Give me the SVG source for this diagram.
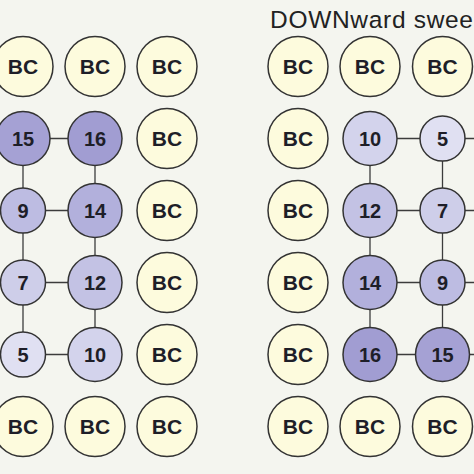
<svg xmlns="http://www.w3.org/2000/svg" width="474" height="474" viewBox="0 0 474 474">
<style>
.bc{fill:#fdfbdd;stroke:#333;stroke-width:1.5}
.n{stroke:#333;stroke-width:1.5}
.t{font-family:"Liberation Sans",Arial,sans-serif;font-weight:bold;fill:#1e1e28;text-anchor:middle}
.tb{font-size:21px}
.tn{font-size:20px}
.ln{stroke:#3c3c3c;stroke-width:1.3;fill:none}
</style>
<rect width="474" height="474" fill="#f4f5ef"/>
<text x="270" y="28" font-family="Liberation Sans,Arial,sans-serif" font-size="24.5" fill="#222" textLength="203" lengthAdjust="spacing">DOWNward swee</text>
<g id="connectors" class="ln">
<path d="M23 138.5H95M23 138.5V354.5M95 138.5V354.5M-20 210.5H95M-20 282.5H95M-20 354.5H95"/>
<path d="M370 138.5H500M370 210.5H500M370 282.5H500M370 354.5H500M370 138.5V354.5M442.5 138.5V354.5"/>
</g>
<g id="L-r1c1"><circle class="bc" cx="23" cy="66.5" r="30"/><text class="t tb" x="23" y="74">BC</text></g>
<g id="L-r1c2"><circle class="bc" cx="95" cy="66.5" r="30"/><text class="t tb" x="95" y="74">BC</text></g>
<g id="L-r1c3"><circle class="bc" cx="167" cy="66.5" r="30"/><text class="t tb" x="167" y="74">BC</text></g>
<g id="L-15"><circle class="n" fill="#a5a1d4" cx="23" cy="138.5" r="27"/><text class="t tn" x="23" y="145.7">15</text></g>
<g id="L-16"><circle class="n" fill="#a19dd2" cx="95" cy="138.5" r="27"/><text class="t tn" x="95" y="145.7">16</text></g>
<g id="L-r2c3"><circle class="bc" cx="167" cy="138.5" r="30"/><text class="t tb" x="167" y="146">BC</text></g>
<g id="L-9"><circle class="n" fill="#bdbce2" cx="23" cy="210.5" r="22.5"/><text class="t tn" x="23" y="217.7">9</text></g>
<g id="L-14"><circle class="n" fill="#b2b0dc" cx="95" cy="210.5" r="27"/><text class="t tn" x="95" y="217.7">14</text></g>
<g id="L-r3c3"><circle class="bc" cx="167" cy="210.5" r="30"/><text class="t tb" x="167" y="218">BC</text></g>
<g id="L-7"><circle class="n" fill="#cecee9" cx="23" cy="282.5" r="22.5"/><text class="t tn" x="23" y="289.7">7</text></g>
<g id="L-12"><circle class="n" fill="#c3c2e4" cx="95" cy="282.5" r="27"/><text class="t tn" x="95" y="289.7">12</text></g>
<g id="L-r4c3"><circle class="bc" cx="167" cy="282.5" r="30"/><text class="t tb" x="167" y="290">BC</text></g>
<g id="L-5"><circle class="n" fill="#e0e0f2" cx="23" cy="354.5" r="22.5"/><text class="t tn" x="23" y="361.7">5</text></g>
<g id="L-10"><circle class="n" fill="#d3d3ec" cx="95" cy="354.5" r="27"/><text class="t tn" x="95" y="361.7">10</text></g>
<g id="L-r5c3"><circle class="bc" cx="167" cy="354.5" r="30"/><text class="t tb" x="167" y="362">BC</text></g>
<g id="L-r6c1"><circle class="bc" cx="23" cy="426.5" r="30"/><text class="t tb" x="23" y="434">BC</text></g>
<g id="L-r6c2"><circle class="bc" cx="95" cy="426.5" r="30"/><text class="t tb" x="95" y="434">BC</text></g>
<g id="L-r6c3"><circle class="bc" cx="167" cy="426.5" r="30"/><text class="t tb" x="167" y="434">BC</text></g>
<g id="R-r1c1"><circle class="bc" cx="298" cy="66.5" r="30"/><text class="t tb" x="298" y="74">BC</text></g>
<g id="R-r1c2"><circle class="bc" cx="370" cy="66.5" r="30"/><text class="t tb" x="370" y="74">BC</text></g>
<g id="R-r1c3"><circle class="bc" cx="442.5" cy="66.5" r="30"/><text class="t tb" x="442.5" y="74">BC</text></g>
<g id="R-r2c1"><circle class="bc" cx="298" cy="138.5" r="30"/><text class="t tb" x="298" y="146">BC</text></g>
<g id="R-10"><circle class="n" fill="#d3d3ec" cx="370" cy="138.5" r="27"/><text class="t tn" x="370" y="145.7">10</text></g>
<g id="R-5"><circle class="n" fill="#e0e0f2" cx="442.5" cy="138.5" r="22.5"/><text class="t tn" x="442.5" y="145.7">5</text></g>
<g id="R-r3c1"><circle class="bc" cx="298" cy="210.5" r="30"/><text class="t tb" x="298" y="218">BC</text></g>
<g id="R-12"><circle class="n" fill="#c3c2e4" cx="370" cy="210.5" r="27"/><text class="t tn" x="370" y="217.7">12</text></g>
<g id="R-7"><circle class="n" fill="#cecee9" cx="442.5" cy="210.5" r="22.5"/><text class="t tn" x="442.5" y="217.7">7</text></g>
<g id="R-r4c1"><circle class="bc" cx="298" cy="282.5" r="30"/><text class="t tb" x="298" y="290">BC</text></g>
<g id="R-14"><circle class="n" fill="#b2b0dc" cx="370" cy="282.5" r="27"/><text class="t tn" x="370" y="289.7">14</text></g>
<g id="R-9"><circle class="n" fill="#bdbce2" cx="442.5" cy="282.5" r="22.5"/><text class="t tn" x="442.5" y="289.7">9</text></g>
<g id="R-r5c1"><circle class="bc" cx="298" cy="354.5" r="30"/><text class="t tb" x="298" y="362">BC</text></g>
<g id="R-16"><circle class="n" fill="#a19dd2" cx="370" cy="354.5" r="27"/><text class="t tn" x="370" y="361.7">16</text></g>
<g id="R-15"><circle class="n" fill="#a5a1d4" cx="442.5" cy="354.5" r="27"/><text class="t tn" x="442.5" y="361.7">15</text></g>
<g id="R-r6c1"><circle class="bc" cx="298" cy="426.5" r="30"/><text class="t tb" x="298" y="434">BC</text></g>
<g id="R-r6c2"><circle class="bc" cx="370" cy="426.5" r="30"/><text class="t tb" x="370" y="434">BC</text></g>
<g id="R-r6c3"><circle class="bc" cx="442.5" cy="426.5" r="30"/><text class="t tb" x="442.5" y="434">BC</text></g>
</svg>
